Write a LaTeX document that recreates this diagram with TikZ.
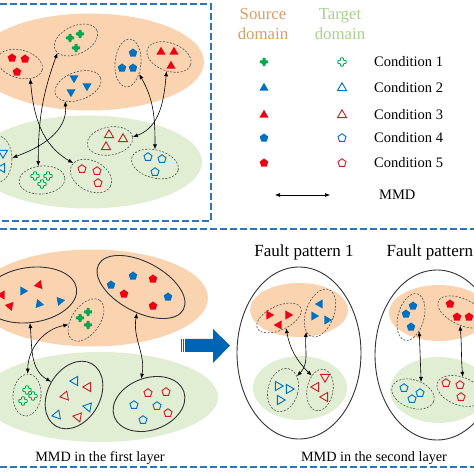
\documentclass[tikz,border=0pt]{standalone}
\usepackage{fontspec}
\setmainfont{Liberation Serif}
\usepackage{tikz}
\usetikzlibrary{positioning, shapes.geometric, arrows.meta}
\usepackage{xcolor}

\definecolor{srcbg}{RGB}{250,212,176}
\definecolor{tgtbg}{RGB}{226,238,212}
\definecolor{frameblue}{RGB}{46,117,182}
\definecolor{mblue}{RGB}{0,112,192}
\definecolor{mred}{RGB}{235,0,20}
\definecolor{ored}{RGB}{205,30,40}
\definecolor{mgreen}{RGB}{0,168,80}
\definecolor{srctext}{RGB}{214,160,100}
\definecolor{tgttext}{RGB}{169,208,142}
\definecolor{bigarrow}{RGB}{0,100,180}

\tikzset{
  cls/.style={ellipse, draw=black!70, dash pattern=on 2pt off 1.5pt, line width=0.6pt, inner sep=0pt},
  grp/.style={ellipse, draw=black!80, line width=0.9pt, inner sep=0pt},
  pent/.style={regular polygon, regular polygon sides=5, inner sep=0pt, minimum size=9pt},
  tri/.style={regular polygon, regular polygon sides=3, inner sep=0pt, minimum size=10.5pt},
  hol/.style={line width=0.9pt},
  plusmk/.style={inner sep=0pt, minimum size=10.5pt, path picture={
      \path[#1, rounded corners=0.7pt] ([shift={(-1.5pt,-4.2pt)}]path picture bounding box.center)
        -- ++(3pt,0) -- ++(0,2.7pt) -- ++(2.7pt,0) -- ++(0,3pt) -- ++(-2.7pt,0) -- ++(0,2.7pt)
        -- ++(-3pt,0) -- ++(0,-2.7pt) -- ++(-2.7pt,0) -- ++(0,-3pt) -- ++(2.7pt,0) -- cycle;}},
  mmd/.style={<->, line width=0.6pt},
  dashline/.style={frameblue, line width=2pt, dash pattern=on 7pt off 3pt},
  txt/.style={inner sep=0pt, font=\fontsize{14.5}{17}\selectfont},
}

\begin{document}
\begin{tikzpicture}[x=1pt, y=1pt, >={Latex[length=5pt, width=4pt]}]
  \useasboundingbox (0,0) rectangle (474,474);

  % top panel: one layer
  \node[ellipse, fill=srcbg, minimum width=228, minimum height=97] (srcA) at (90,412) {};
  \node[ellipse, fill=tgtbg, minimum width=228, minimum height=93] (tgtA) at (88,312) {};
  \draw[dashline] (-3,253) rectangle (211,470);

  \node[cls, minimum width=46, minimum height=28, rotate=-15] (sp5) at (20,410) {};
  \node[cls, minimum width=46, minimum height=28, rotate=25]  (sc1) at (76,434) {};
  \node[cls, minimum width=48, minimum height=28, rotate=20]  (st2) at (78,388) {};
  \node[cls, minimum width=26, minimum height=48, rotate=-5]  (sp4) at (128,411) {};
  \node[cls, minimum width=46, minimum height=28, rotate=-20] (st3) at (169,417) {};
  \node[cls, minimum width=46, minimum height=28, rotate=10]  (tt3) at (110,333) {};
  \node[cls, minimum width=48, minimum height=28, rotate=-15] (tp4) at (155,310) {};
  \node[cls, minimum width=28, minimum height=46]             (tt2) at (-2,315) {};
  \node[cls, minimum width=46, minimum height=28, rotate=5]   (tc1) at (42,294) {};
  \node[cls, minimum width=44, minimum height=30, rotate=-28] (tp5) at (91,298) {};

  \node[pent, fill=mred] (sp5a) at (12,416) {};
  \node[pent, fill=mred] (sp5b) at (25,415) {};
  \node[pent, fill=mred] (sp5c) at (17,402) {};
  \node[plusmk={fill=mgreen}] (sc1a) at (70,436) {};
  \node[plusmk={fill=mgreen}] (sc1b) at (80,440) {};
  \node[plusmk={fill=mgreen}] (sc1c) at (76,426) {};
  \node[tri, fill=mblue, rotate=180] (st2a) at (74,396) {};
  \node[tri, fill=mblue, rotate=180] (st2b) at (87,388) {};
  \node[tri, fill=mblue, rotate=180] (st2c) at (71,382) {};
  \node[pent, fill=mblue] (sp4a) at (133,421) {};
  \node[pent, fill=mblue] (sp4b) at (122,406) {};
  \node[pent, fill=mblue] (sp4c) at (133,406) {};
  \node[tri, fill=mred] (st3a) at (161,422) {};
  \node[tri, fill=mred] (st3b) at (174,422) {};
  \node[tri, fill=mred] (st3c) at (171,408) {};
  \node[tri, hol, draw=ored] (tt3a) at (109,339) {};
  \node[tri, hol, draw=ored] (tt3b) at (123,335) {};
  \node[tri, hol, draw=ored] (tt3c) at (106,327) {};
  \node[pent, hol, draw=mblue, minimum size=8.5pt] (tp4a) at (148,317) {};
  \node[pent, hol, draw=mblue, minimum size=8.5pt] (tp4b) at (162,315) {};
  \node[pent, hol, draw=mblue, minimum size=8.5pt] (tp4c) at (155,302) {};
  \node[tri, hol, draw=mblue, rotate=180] (tt2a) at (3,321) {};
  \node[tri, hol, draw=mblue, rotate=90]  (tt2b) at (2,306) {};
  \node[plusmk={draw=mgreen, line width=0.9pt}] (tc1a) at (35,298) {};
  \node[plusmk={draw=mgreen, line width=0.9pt}] (tc1b) at (48,298) {};
  \node[plusmk={draw=mgreen, line width=0.9pt}] (tc1c) at (42,290) {};
  \node[pent, hol, draw=ored, minimum size=8.5pt] (tp5a) at (82,305) {};
  \node[pent, hol, draw=ored, minimum size=8.5pt] (tp5b) at (97,303) {};
  \node[pent, hol, draw=ored, minimum size=8.5pt] (tp5c) at (98,291) {};

  \draw[mmd] (sp5.-40) to[out=-85, in=150] (tp5.172);
  \draw[mmd] (sc1.190) to[out=-110, in=90] (tc1.100);
  \draw[mmd] (st2.210) to[out=-85, in=20] (tt2.5);
  \draw[mmd] (sp4.-40) to[out=-60, in=90] (tp4.105);
  \draw[mmd] (st3.-80) to[out=-95, in=20] (tt3.0);

  % legend
  \node[text=srctext, align=center, inner sep=0pt, font=\fontsize{16.8}{19.5}\selectfont] (srclab) at (263,450) {Source\\domain};
  \node[text=tgttext, align=center, inner sep=0pt, font=\fontsize{16.8}{19.5}\selectfont] (tgtlab) at (340,450) {Target\\domain};

  \node[plusmk={fill=mgreen}] (ls1) at (264,412) {};
  \node[tri, fill=mblue]      (ls2) at (264,386) {};
  \node[tri, fill=mred]       (ls3) at (264,359) {};
  \node[pent, fill=mblue]     (ls4) at (264,336) {};
  \node[pent, fill=mred]      (ls5) at (264,311) {};
  \node[plusmk={draw=mgreen, line width=0.9pt}] (lt1) at (342,412) {};
  \node[tri, hol, draw=mblue] (lt2) at (342,386) {};
  \node[tri, hol, draw=ored]  (lt3) at (342,359) {};
  \node[pent, hol, draw=mblue, minimum size=8.5pt] (lt4) at (342,336) {};
  \node[pent, hol, draw=ored, minimum size=8.5pt]  (lt5) at (342,311) {};

  \node[txt, anchor=west] (lc1) at (374,412) {Condition 1};
  \node[txt, anchor=west] (lc2) at (374,386) {Condition 2};
  \node[txt, anchor=west] (lc3) at (374,359) {Condition 3};
  \node[txt, anchor=west] (lc4) at (374,336) {Condition 4};
  \node[txt, anchor=west] (lc5) at (374,311) {Condition 5};

  \coordinate (mmdL) at (275,279);
  \coordinate (mmdR) at (330,279);
  \draw[mmd] (mmdL) -- (mmdR);
  \node[txt, anchor=west] (lmmd) at (379,279) {MMD};

  \draw[dashline] (0,244.5) -- (474,244.5);
  \draw[dashline] (0,7) -- (474,7);

  % bottom left: first layer
  \node[ellipse, fill=srcbg, minimum width=232, minimum height=97] (srcB) at (92,176) {};
  \node[ellipse, fill=tgtbg, minimum width=236, minimum height=90] (tgtB) at (100,77) {};

  \node[grp, minimum width=94, minimum height=55, rotate=8]   (gtri)   at (30,179) {};
  \node[grp, minimum width=96, minimum height=50, rotate=-28] (gpent)  at (141,187) {};
  \node[cls, minimum width=48, minimum height=28, rotate=55]  (bsc1)   at (86,154) {};
  \node[cls, minimum width=28, minimum height=42, rotate=-5]  (btc1)   at (27,79) {};
  \node[grp, minimum width=72, minimum height=52, rotate=60]  (gtriT)  at (74,79) {};
  \node[grp, minimum width=74, minimum height=52, rotate=20]  (gpentT) at (149,70) {};

  \node[tri, fill=mred, rotate=90]   (gr1) at (2,179) {};
  \node[tri, fill=mred, rotate=100]  (gr2) at (39,189) {};
  \node[tri, fill=mred, rotate=80]   (gr3) at (10,168) {};
  \node[tri, fill=mblue, rotate=-90] (gb1) at (23,183) {};
  \node[tri, fill=mblue, rotate=-100] (gb2) at (39,170) {};
  \node[tri, fill=mblue, rotate=-80] (gb3) at (60,173) {};
  \node[pent, fill=mblue] (gp1) at (111,189) {};
  \node[pent, fill=mblue] (gp2) at (133,198) {};
  \node[pent, fill=mblue] (gp3) at (168,177) {};
  \node[pent, fill=mred]  (gp4) at (153,195) {};
  \node[pent, fill=mred]  (gp5) at (124,180) {};
  \node[pent, fill=mred]  (gp6) at (153,168) {};
  \node[plusmk={fill=mgreen}] (bsc1a) at (88,162) {};
  \node[plusmk={fill=mgreen}] (bsc1b) at (80,156) {};
  \node[plusmk={fill=mgreen}] (bsc1c) at (88,149) {};
  \node[plusmk={draw=mgreen, line width=0.9pt}] (btc1a) at (27,84) {};
  \node[plusmk={draw=mgreen, line width=0.9pt}] (btc1b) at (33,78) {};
  \node[plusmk={draw=mgreen, line width=0.9pt}] (btc1c) at (23,73) {};
  \node[tri, hol, draw=mblue, rotate=90]  (to1) at (75,93) {};
  \node[tri, hol, draw=mblue, rotate=80]  (to2) at (88,67) {};
  \node[tri, hol, draw=mblue, rotate=100] (to3) at (57,59) {};
  \node[tri, hol, draw=ored, rotate=90]   (to4) at (88,87) {};
  \node[tri, hol, draw=ored, rotate=100]  (to5) at (65,78) {};
  \node[tri, hol, draw=ored, rotate=80]   (to6) at (78,57) {};
  \node[pent, hol, draw=ored, minimum size=8.5pt]  (po1) at (148,81) {};
  \node[pent, hol, draw=ored, minimum size=8.5pt]  (po2) at (166,82) {};
  \node[pent, hol, draw=ored, minimum size=8.5pt]  (po3) at (168,61) {};
  \node[pent, hol, draw=mblue, minimum size=8.5pt] (po4) at (134,69) {};
  \node[pent, hol, draw=mblue, minimum size=8.5pt] (po5) at (157,68) {};
  \node[pent, hol, draw=mblue, minimum size=8.5pt] (po6) at (143,54) {};

  \draw[mmd] (gtri.-98) to[out=-85, in=150] (gtriT.90);
  \draw[mmd] (bsc1.140) to[out=190, in=90] (btc1.93);
  \draw[mmd] (gpent.-71) to[out=-100, in=80] (gpentT.87);

  \fill[bigarrow] (181,122) rectangle (182.3,135);
  \fill[bigarrow] (183.1,122) rectangle (184.4,135);
  \fill[bigarrow] (185.2,122) -- (213,122) -- (213,111) -- (230,128.5) -- (213,145) -- (213,135) -- (185.2,135) -- cycle;

  \node[txt, font=\fontsize{14.2}{17}\selectfont] (lay1) at (100,16) {MMD in the first layer};

  % bottom right: second layer
  \node[grp, minimum width=124, minimum height=172] (fp1) at (299,121) {};
  \node[grp, minimum width=124, minimum height=170] (fp2) at (437,119) {};
  \node[ellipse, fill=srcbg, minimum width=98, minimum height=54]  (fp1s) at (299,164) {};
  \node[ellipse, fill=tgtbg, minimum width=94, minimum height=64]  (fp1t) at (300,86) {};
  \node[ellipse, fill=srcbg, minimum width=100, minimum height=56] (fp2s) at (439,161) {};
  \node[ellipse, fill=tgtbg, minimum width=98, minimum height=66]  (fp2t) at (439,84) {};

  \node[cls, minimum width=48, minimum height=24, rotate=25]  (f1s3) at (279,156) {};
  \node[cls, minimum width=28, minimum height=50, rotate=-20] (f1s2) at (320,161) {};
  \node[cls, minimum width=30, minimum height=44, rotate=-15] (f1t2) at (283,84) {};
  \node[cls, minimum width=26, minimum height=42, rotate=-10] (f1t3) at (320,84) {};
  \node[cls, minimum width=26, minimum height=48, rotate=-15] (f2s4) at (411,157) {};
  \node[cls, minimum width=52, minimum height=26, rotate=-25] (f2s5) at (462,162) {};
  \node[cls, minimum width=44, minimum height=28, rotate=-20] (f2t4) at (413,80) {};
  \node[cls, minimum width=48, minimum height=28, rotate=-20] (f2t5) at (460,83) {};

  \node[tri, fill=mred, rotate=30]   (f1a) at (269,159) {};
  \node[tri, fill=mred, rotate=30]   (f1b) at (288,159) {};
  \node[tri, fill=mred, rotate=90]   (f1c) at (279,149) {};
  \node[tri, fill=mblue, rotate=-30] (f1d) at (320,170) {};
  \node[tri, fill=mblue, rotate=-90] (f1e) at (314,158) {};
  \node[tri, fill=mblue, rotate=-90] (f1f) at (327,154) {};
  \node[tri, hol, draw=mblue, rotate=-90] (f1g) at (278,88) {};
  \node[tri, hol, draw=mblue, rotate=-90] (f1h) at (289,85) {};
  \node[tri, hol, draw=mblue, rotate=-90] (f1i) at (280,74) {};
  \node[tri, hol, draw=ored, rotate=180]  (f1j) at (325,97) {};
  \node[tri, hol, draw=ored, rotate=90]   (f1k) at (316,87) {};
  \node[tri, hol, draw=ored, rotate=90]   (f1l) at (325,77) {};

  \node[pent, fill=mblue] (f2a) at (413,168) {};
  \node[pent, fill=mblue] (f2b) at (406,160) {};
  \node[pent, fill=mblue] (f2c) at (411,147) {};
  \node[pent, fill=mred]  (f2d) at (450,170) {};
  \node[pent, fill=mred]  (f2e) at (457,157) {};
  \node[pent, fill=mred]  (f2f) at (469,157) {};
  \node[pent, hol, draw=mblue, minimum size=8.5pt] (f2g) at (404,86) {};
  \node[pent, hol, draw=mblue, minimum size=8.5pt] (f2h) at (420,81) {};
  \node[pent, hol, draw=mblue, minimum size=8.5pt] (f2i) at (412,75) {};
  \node[pent, hol, draw=ored, minimum size=8.5pt]  (f2j) at (446,91) {};
  \node[pent, hol, draw=ored, minimum size=8.5pt]  (f2k) at (460,89) {};
  \node[pent, hol, draw=ored, minimum size=8.5pt]  (f2l) at (461,77) {};

  \draw[mmd] (f1s3.-80) to[out=-80, in=135] (f1t3.130);
  \draw[mmd] (f1s2.-106) to[out=-95, in=45] (f1t2.60);
  \draw[mmd] (f2s4.-45) -- (f2t4.76);
  \draw[mmd] (f2s5.-73) to[out=-85, in=95] (f2t5.99);

  \node[font=\fontsize{17}{20}\selectfont, inner sep=0pt] (fpl1) at (304,222) {Fault pattern 1};
  \node[font=\fontsize{17}{20}\selectfont, inner sep=0pt, anchor=west] (fpl2) at (386.5,222) {Fault pattern};
  \node[txt, font=\fontsize{14.2}{17}\selectfont] (lay2) at (374,16) {MMD in the second layer};
\end{tikzpicture}
\end{document}
